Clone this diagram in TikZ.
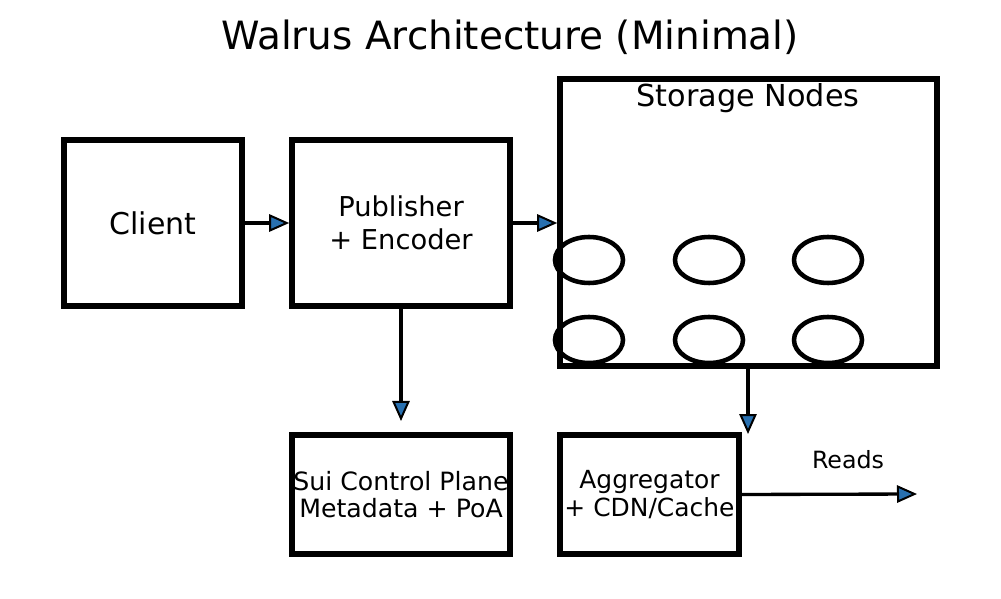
\documentclass[tikz,border=0pt]{standalone}
\usepackage{fontspec}
\setmainfont{DejaVu Sans}
\usetikzlibrary{arrows.meta,shapes.geometric}
\definecolor{tipblue}{RGB}{40,112,176}
\tikzset{
  box/.style={draw=black, line width=4.2pt, rectangle, inner sep=0pt, align=center},
  disk/.style={draw=black, line width=3.4pt, ellipse, minimum width=51pt, minimum height=34.5pt, inner sep=0pt},
  flow/.style={line width=2.5pt, -{Triangle[length=15pt,width=13pt,fill=tipblue,line width=1.5pt]}},
}
\begin{document}
\begin{tikzpicture}[x=0.75pt,y=-0.75pt]
\useasboundingbox (0,0) rectangle (1001,599);
\node[font=\fontsize{29.2}{34}\selectfont] (title) at (510,37) {Walrus Architecture (Minimal)};
\node[box, minimum width=133.5pt, minimum height=124.5pt, font=\fontsize{22.5}{27}\selectfont] (client) at (153,223) {Client};
\node[box, minimum width=163.5pt, minimum height=124.5pt, font=\fontsize{20.5}{24.5}\selectfont] (pub) at (401,223) {Publisher\\+ Encoder};
\node[box, minimum width=282.75pt, minimum height=215.25pt] (storage) at (748.5,222.5) {};
\node[font=\fontsize{22.7}{27}\selectfont] (storagelabel) at (748,98) {Storage Nodes};
\node[disk] (d1) at (589,260) {};
\node[disk] (d2) at (709,260) {};
\node[disk] (d3) at (828,260) {};
\node[disk] (d4) at (589,340) {};
\node[disk] (d5) at (709,340) {};
\node[disk] (d6) at (828,340) {};
\node[box, minimum width=163.5pt, minimum height=89.25pt, font=\fontsize{18.9}{20.5}\selectfont] (sui) at (401,494.5) {Sui Control Plane\\Metadata + PoA};
\node[box, minimum width=134.25pt, minimum height=89.25pt, font=\fontsize{18.7}{20.5}\selectfont] (agg) at (649.5,494.5) {Aggregator\\+ CDN/Cache};
\node[font=\fontsize{17.8}{21}\selectfont] (reads) at (848,460) {Reads};
\coordinate (suiin) at (401,421);
\coordinate (aggin) at (748,434);
\coordinate (readsend) at (917,494);
\draw[flow] (client.east) -- (pub.west);
\draw[flow] (pub.east) -- (pub.east -| storage.west);
\draw[flow] (pub.south) -- (suiin);
\draw[flow] (storage.south -| aggin) -- (aggin);
\draw[flow] (agg.east) -- (readsend);
\end{tikzpicture}
\end{document}
